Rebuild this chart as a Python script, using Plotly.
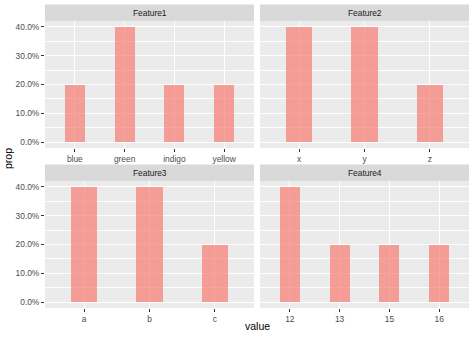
import plotly.graph_objects as go

# Proportions of each value within each feature
features = ["Feature1", "Feature2", "Feature3", "Feature4"]
f1_values = ["blue", "green", "indigo", "yellow"]
f1_prop = [0.2, 0.4, 0.2, 0.2]
f2_values = ["x", "y", "z"]
f2_prop = [0.4, 0.4, 0.2]
f3_values = ["a", "b", "c"]
f3_prop = [0.4, 0.4, 0.2]
f4_values = ["12", "13", "15", "16"]
f4_prop = [0.4, 0.2, 0.2, 0.2]
y_ticks = [0.0, 0.1, 0.2, 0.3, 0.4]

panels = [(f1_values, f1_prop), (f2_values, f2_prop), (f3_values, f3_prop), (f4_values, f4_prop)]

W, H = 474, 338
FONT = "Liberation Sans, Arial, sans-serif"
BAR = "rgba(248,118,109,0.68)"
PANEL_BG = "#EBEBEB"
STRIP_BG = "#D9D9D9"
TICK_SIZE = 8.4
TITLE_SIZE = 10.5

# pixel boxes of the panels: (left, right, top, bottom)
col_x = [(45, 254), (260, 469)]
row_y = [(21, 148), (181, 308)]
strip_h = 16.5

fig = go.Figure()
layout = {}
shapes = []
annotations = []

for i, (cats, vals) in enumerate(panels):
    r, c = divmod(i, 2)
    xl, xr = col_x[c]
    yt, yb = row_y[r]
    suffix = "" if i == 0 else str(i + 1)
    xa, ya = "x" + suffix, "y" + suffix
    fig.add_trace(go.Bar(
        x=cats, y=vals, xaxis=xa, yaxis=ya, width=0.4,
        marker=dict(color=BAR, line=dict(width=0)), showlegend=False,
        hoverinfo="x+y",
    ))
    layout["xaxis" + suffix] = dict(
        domain=[xl / W, xr / W], anchor=ya, type="category",
        range=[-0.6, len(cats) - 0.4], showgrid=True, gridcolor="white",
        gridwidth=1.1, zeroline=False, showline=False,
        ticks="outside", ticklen=3, tickcolor="#333333", tickwidth=1,
        tickfont=dict(family=FONT, size=TICK_SIZE, color="#4D4D4D"),
        fixedrange=True,
    )
    layout["yaxis" + suffix] = dict(
        domain=[1 - yb / H, 1 - yt / H], anchor=xa,
        range=[-0.02, 0.42], tickvals=y_ticks, tickformat=".1%",
        showticklabels=(c == 0), ticks="outside" if c == 0 else "",
        ticklen=3, tickcolor="#333333", tickwidth=1,
        tickfont=dict(family=FONT, size=TICK_SIZE, color="#4D4D4D"),
        showgrid=True, gridcolor="white", gridwidth=1.1,
        minor=dict(dtick=0.05, tick0=0.05, showgrid=True, gridcolor="white", gridwidth=0.5),
        zeroline=False, showline=False, fixedrange=True,
    )
    # facet strip
    shapes.append(dict(
        type="rect", xref="paper", yref="paper",
        x0=xl / W, x1=xr / W, y0=1 - yt / H, y1=1 - (yt - strip_h) / H,
        fillcolor=STRIP_BG, line=dict(width=0), layer="below",
    ))
    annotations.append(dict(
        text=features[i], xref="paper", yref="paper",
        x=(xl + xr) / 2 / W, y=1 - (yt - strip_h / 2) / H,
        showarrow=False, xanchor="center", yanchor="middle",
        font=dict(family=FONT, size=TICK_SIZE, color="#1A1A1A"),
    ))

annotations.append(dict(
    text="value", xref="paper", yref="paper", x=257 / W, y=1 - 326 / H,
    showarrow=False, xanchor="center", yanchor="middle",
    font=dict(family=FONT, size=TITLE_SIZE, color="black"),
))
annotations.append(dict(
    text="prop", xref="paper", yref="paper", x=8 / W, y=1 - 158 / H,
    showarrow=False, xanchor="center", yanchor="middle", textangle=-90,
    font=dict(family=FONT, size=TITLE_SIZE, color="black"),
))

fig.update_layout(
    width=W, height=H, margin=dict(l=0, r=0, t=0, b=0),
    paper_bgcolor="white", plot_bgcolor=PANEL_BG,
    shapes=shapes, annotations=annotations, bargap=0,
    **layout,
)

fig.write_html("out.html", config={"displayModeBar": False})
